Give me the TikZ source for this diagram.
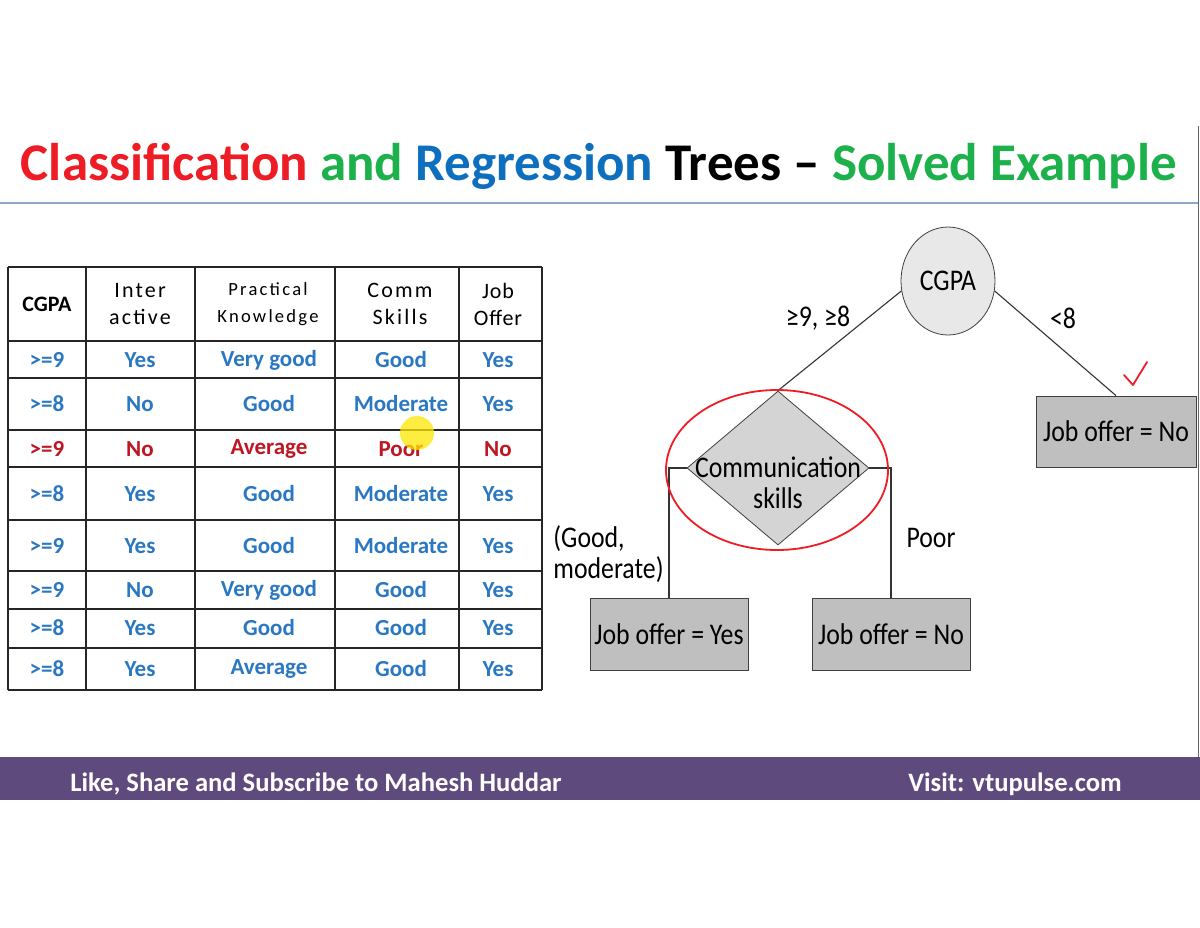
\documentclass[tikz,border=0pt]{standalone}
\usepackage{fontspec}
\setmainfont{Carlito}
\newfontfamily\treefont[FakeStretch=0.86]{Carlito}
\usetikzlibrary{shapes.geometric}
\definecolor{ttlred}{HTML}{EE1C25}
\definecolor{ttlgreen}{HTML}{1DB14B}
\definecolor{ttlblue}{HTML}{0E6FBF}
\definecolor{datblue}{HTML}{2A78C2}
\definecolor{datred}{HTML}{BE1622}
\definecolor{band}{HTML}{5E4A7C}
\definecolor{rulecol}{HTML}{8EA8CC}

\begin{document}
\begin{tikzpicture}[x=0.5pt,y=-0.5pt,
  grid/.style={draw=black!85,line width=0.7pt},
  hdr/.style={align=center,font=\fontsize{11}{13.5}\selectfont\addfontfeatures{LetterSpace=10}},
  hdrsmall/.style={align=center,font=\fontsize{9.3}{13.5}\selectfont\addfontfeatures{LetterSpace=12}},
  dat/.style={font=\bfseries\fontsize{11.5}{13}\selectfont},
  root/.style={ellipse,draw=black!75,fill=black!9,minimum width=47pt,minimum height=54pt,inner sep=0pt},
  test/.style={diamond,draw=black!75,fill=black!17,minimum width=91pt,minimum height=77pt,inner sep=0pt},
  leaf/.style={draw=black!75,fill=black!25,minimum width=79pt,minimum height=36pt,inner sep=0pt},
  edge/.style={draw=black!80,line width=0.55pt},
  lbl/.style={inner sep=0pt},
  foot/.style={anchor=base west,inner sep=0pt,text=white,font=\bfseries\fontsize{13.3}{15}\selectfont},
  every node/.style={font=\treefont\fontsize{15}{15.5}\selectfont}]
\useasboundingbox[fill=white] (0,0) rectangle (1200,927);

\node[anchor=base,font=\bfseries\fontsize{26.5}{30}\selectfont] (title) at (599,180)
  {\textcolor{ttlred}{Classification} \textcolor{ttlgreen}{and} \textcolor{ttlblue}{Regression} Trees – \textcolor{ttlgreen}{Solved Example}};
\draw[rulecol,line width=0.8pt] (0,203) -- (1198,203);
\draw[black!60,line width=0.5pt] (1198,126) -- (1198,757);

\foreach \x in {8,86,195,335,459,542} \draw[grid] (\x,267) -- (\x,690);
\foreach \y in {267,341,378,430,467,520,571,609,648,690} \draw[grid] (8,\y) -- (542,\y);

\node[hdr,font=\bfseries\fontsize{11}{13.5}\selectfont] (hcg) at (47,304) {CGPA};
\node[hdr] (hia) at (140,304) {Inter\\active};
\node[hdrsmall] (hpk) at (268,304) {Practical\\Knowledge};
\node[hdr] (hcs) at (400,304) {Comm\\Skills};
\node[hdr,font=\fontsize{11}{13.5}\selectfont\addfontfeatures{LetterSpace=4}] (hjo) at (498,304) {Job\\Offer};

\foreach \y/\tc/\cg/\ia/\pk/\cs/\jo [count=\n] in {
  360/datblue/>=9/Yes/Very good/Good/Yes,
  404/datblue/>=8/No/Good/Moderate/Yes,
  449/datred/>=9/No/Average/Poor/No,
  494/datblue/>=8/Yes/Good/Moderate/Yes,
  546/datblue/>=9/Yes/Good/Moderate/Yes,
  590/datblue/>=9/No/Very good/Good/Yes,
  628/datblue/>=8/Yes/Good/Good/Yes,
  669/datblue/>=8/Yes/Average/Good/Yes}{
  \node[dat,text=\tc] (cg\n) at (47,\y) {\cg};
  \node[dat,text=\tc] (ia\n) at (140,\y) {\ia};
  \node[dat,text=\tc] (pk\n) at (269,\y) {\pk};
  \node[dat,text=\tc] (cs\n) at (401,\y) {\cs};
  \node[dat,text=\tc] (jo\n) at (498,\y) {\jo};
}
\fill[yellow!90!orange,opacity=0.75] (417,433) circle [radius=8.5pt];

\node[root] (cgpa) at (948,281) {CGPA};
\node[test] (comm) at (778,468) {};
\node[align=center] (commtxt) at (778,483) {Communication\\skills};
\node[leaf] (yes) at (669,634) {Job offer = Yes};
\node[leaf] (no) at (891,634) {Job offer = No};
\node[leaf,minimum width=80pt,minimum height=35.5pt] (rno) at (1116,431.5) {Job offer = No};

\draw[edge] (cgpa.192) -- (comm.north);
\draw[edge] (cgpa.348) -- (rno.north);
\draw[edge] (comm.west) -| (yes.north);
\draw[edge] (comm.east) -| (no.north);

\node[lbl] (lge) at (818,318) {≥9, ≥8};
\node[lbl] (llt) at (1063,318) {<8};
\node[lbl,align=left,anchor=west] (lgood) at (553,554) {(Good,\\moderate)};
\node[lbl] (lpoor) at (931,538) {Poor};

\draw[ttlred,line width=0.9pt] (777,470) ellipse [x radius=55.5pt, y radius=40pt];
\draw[ttlred,line width=0.9pt,line cap=round,line join=round] (1124,375) -- (1133,385) -- (1147,362);

\fill[band] (0,757) rectangle (1200,800);
\node[foot] (like) at (70,791) {Like, Share and Subscribe to Mahesh Huddar};
\node[foot] (visit) at (908,791) {Visit: vtupulse.com};
\end{tikzpicture}
\end{document}
